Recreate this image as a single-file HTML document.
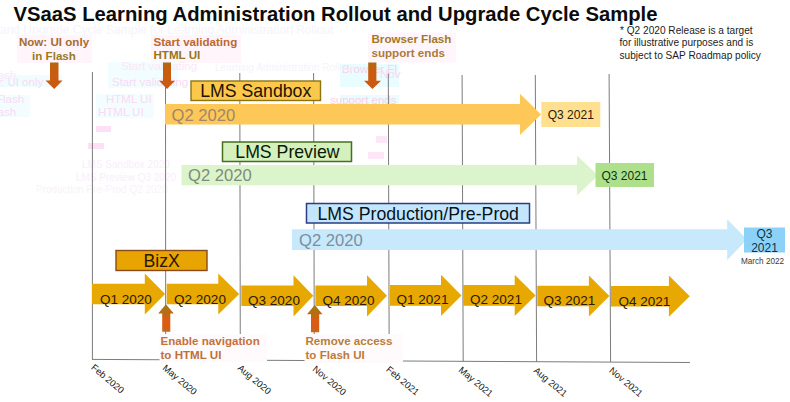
<!DOCTYPE html>
<html><head><meta charset="utf-8">
<style>
html,body{margin:0;padding:0;background:#fff;}
body{width:790px;height:402px;overflow:hidden;position:relative;font-family:"Liberation Sans",sans-serif;}
svg{position:absolute;left:0;top:0;}
svg text{font-family:"Liberation Sans",sans-serif;}
</style></head><body>
<svg width="790" height="402" viewBox="0 0 790 402">
<defs>
<linearGradient id="ga" x1="0" y1="0" x2="0" y2="1"><stop offset="0" stop-color="#b0680e"/><stop offset="0.25" stop-color="#c65e0e"/><stop offset="0.7" stop-color="#cc5a10"/><stop offset="1" stop-color="#c8581a"/></linearGradient>
<linearGradient id="gu" x1="0" y1="0" x2="0" y2="1"><stop offset="0" stop-color="#9c7a18"/><stop offset="0.3" stop-color="#b86c12"/><stop offset="0.55" stop-color="#dc5c12"/><stop offset="0.85" stop-color="#d85c14"/><stop offset="1" stop-color="#b87020"/></linearGradient>
<linearGradient id="gt" x1="0" y1="0" x2="0" y2="1"><stop offset="0" stop-color="#bd6a38"/><stop offset="1" stop-color="#9c8426"/></linearGradient>
</defs>
<rect width="790" height="402" fill="#fff"/>

<g fill="#fff5fb">
<rect x="17" y="35" width="75" height="28"/>
<rect x="151" y="35" width="90" height="28"/>
<rect x="368" y="32.5" width="88" height="30"/>
</g>
<!-- faint ghost artifacts -->
<g font-size="11.5" fill="#fbd9f4">
<rect x="0" y="75" width="62" height="12" fill="#effdff"/>
<rect x="0" y="95" width="30" height="22" fill="#f3fdff"/>
<rect x="108" y="62" width="70" height="26" fill="#f1fdff"/>
<rect x="96" y="94" width="58" height="24" fill="#f3fdff"/>
<rect x="340" y="64" width="59" height="23" fill="#e9fcff"/>
<rect x="340" y="95" width="59" height="10" fill="#e9fcff"/>
<text x="-22" y="85.5">Now: UI only</text>
<text x="-24" y="79" fill="#fde6f8">in Flash</text>
<text x="-4" y="103">Flash</text>
<text x="-24" y="116">in Flash</text>
<text x="112" y="85.5">Start validating</text>
<text x="121" y="70" fill="#fde6f8">Start validating</text>
<text x="106" y="103">HTML UI</text>
<text x="98" y="116">HTML UI</text>
<text x="342" y="72.5" fill="#fbcfe8">Browser Fl</text>
<text x="380" y="78" fill="#fcd6f0">Nov</text>
<text x="330" y="103.5" fill="#fbcfe8">support ends</text>
<rect x="96" y="126" width="15" height="6" fill="#fde0f6"/>
<rect x="88" y="143" width="16" height="6" fill="#fde0f6"/>
<rect x="376" y="136" width="11" height="7" fill="#fde6f8"/>
<rect x="368" y="152" width="16" height="7" fill="#fde6f8"/>
</g>
<g font-size="10" fill="#f6f3fd">
<text x="0" y="34" font-size="12">and Upgrade Cycle Sample for Learning Administration Rollout</text>
<text x="215" y="71">Learning Administration Rollout</text>
<text x="82" y="168" fill="#f9eefb">LMS Sandbox 2020</text>
<text x="76" y="181" fill="#f9eefb">LMS Preview Q3 2020</text>
<text x="36" y="193" fill="#faf1fc">Production Pre-Prod Q2 2020</text>
</g>
<!-- grid lines -->
<g stroke="#7c7c7c" stroke-width="1" fill="none">
<line x1="92.4" y1="72" x2="92.4" y2="359.5"/>
<line x1="165.5" y1="72" x2="165.7" y2="359.9"/>
<line x1="239.8" y1="73" x2="240.3" y2="360.2"/>
<line x1="313.6" y1="73" x2="314.3" y2="360.6"/>
<line x1="388.3" y1="73.5" x2="389.2" y2="361.0"/>
<line x1="462.1" y1="75" x2="463.2" y2="361.4"/>
<line x1="535.3" y1="75" x2="536.6" y2="361.7"/>
<line x1="609.1" y1="74" x2="610.6" y2="362.1"/>
<line x1="92" y1="359.4" x2="690" y2="362.5"/>
</g>
<rect x="159.5" y="334" width="107.5" height="28" fill="#fffafc"/>
<rect x="304.5" y="334" width="98.5" height="29" fill="#fffafc"/>

<!-- Sandbox row -->
<polygon points="165,104 520,104 520,93.7 541,114.4 520,135.1 520,124.6 165,124.6" fill="#fdc858"/>
<rect x="541.3" y="102" width="59" height="25" fill="#ffe090"/>
<rect x="191" y="81" width="129.5" height="19.5" fill="#fcc84c" stroke="#8a7610" stroke-width="1.4"/>

<!-- Preview row -->
<polygon points="181.5,165 577,165 577,155.4 598,175.4 577,195.5 577,185.2 181.5,185.2" fill="#dcf4cc"/>
<rect x="595.5" y="163" width="58.5" height="24" fill="#aee08c"/>
<rect x="222.5" y="142" width="129" height="19.5" fill="#d4f0bc" stroke="#456f1c" stroke-width="1.5"/>

<!-- Production row -->
<polygon points="292,229.2 727.2,229.2 727.2,219.2 747,239.6 727.2,260 727.2,250 292,250" fill="#c8e8fc"/>
<rect x="744" y="227.5" width="41" height="25" fill="#8cd2f8"/>
<rect x="306.5" y="203.5" width="223" height="19.5" fill="#c4e6fc" stroke="#2a3c84" stroke-width="1.5"/>

<!-- BizX -->
<rect x="116" y="250.5" width="91" height="20" fill="#e8a400" stroke="#8a4a18" stroke-width="1.4"/>

<!-- Quarter arrows -->
<g fill="#e8a802">
<polygon points="92,283.7 144.8,283.7 144.8,273.4 165.1,294.0 144.8,314.6 144.8,304.3 92,304.3"/>
<polygon points="166.7,283.7 218.3,283.7 218.3,273.4 239.2,294.0 218.3,314.6 218.3,304.3 166.7,304.3"/>
<polygon points="241.3,285.5 293.5,285.5 293.5,275.2 313.3,295.8 293.5,316.4 293.5,306.1 241.3,306.1"/>
<polygon points="315.4,285.5 367,285.5 367,275.2 387,295.8 367,316.4 367,306.1 315.4,306.1"/>
<polygon points="390,285.1 441,285.1 441,274.8 461.5,295.4 441,316.0 441,305.7 390,305.7"/>
<polygon points="463.1,285.1 514.7,285.1 514.7,274.8 535.6,295.4 514.7,316.0 514.7,305.7 463.1,305.7"/>
<polygon points="537.3,285.7 588.9,285.7 588.9,275.4 609.4,296.0 588.9,316.6 588.9,306.3 537.3,306.3"/>
<polygon points="611,285.9 668.9,285.9 668.9,275.6 689.8,296.2 668.9,316.8 668.9,306.5 611,306.5"/>
</g>

<!-- down arrows -->
<g fill="url(#ga)">
<polygon points="50,62.5 58.5,62.5 58.5,80.5 62.5,80.5 54.2,89 45.5,80.5 50,80.5"/>
<polygon points="163,62.5 171,62.5 171,80.8 175,80.8 167,89 159,80.8 163,80.8"/>
<polygon points="368.2,62.5 376.4,62.5 376.4,80.8 381,80.8 372.4,89 364,80.8 368.2,80.8"/>
</g>
<!-- up arrows -->
<g fill="url(#gu)">
<polygon points="165.9,304.3 173.8,313.6 170.3,313.6 170.3,331.8 162.2,331.8 162.2,313.6 158.2,313.6"/>
<polygon points="314.8,305 322.5,314.2 319.2,314.2 319.2,332.3 311,332.3 311,314.2 307,314.2"/>
</g>

<!-- text -->
<text x="13.5" y="20.5" font-size="20.25" font-weight="bold" fill="#0c0c0c">VSaaS Learning Administration Rollout and Upgrade Cycle Sample</text>
<g font-size="10.12" fill="#1c1c1c">
<text x="620" y="33.5">* Q2 2020 Release is a target</text>
<text x="619.5" y="46.3">for illustrative purposes and is</text>
<text x="619.5" y="58.5">subject to SAP Roadmap policy</text>
</g>

<g font-size="11.6" font-weight="bold" fill="#b47332" stroke-width="0.25" paint-order="stroke">
<text x="54" y="46.3" text-anchor="middle" fill="#a86c2c">Now: UI only</text>
<text x="54" y="59.6" text-anchor="middle" fill="#9a7a24">in Flash</text>
<text x="153.5" y="46" fill="#be682e">Start validating</text>
<text x="153.5" y="59.2" fill="#93761a">HTML UI</text>
<text x="371.5" y="43.3" fill="#a07a28">Browser Flash</text>
<text x="371.5" y="57" fill="#ac7a3a">support ends</text>
<text x="160.5" y="345" fill="#c8703a">Enable navigation</text>
<text x="160.5" y="358.5" fill="#c07038">to HTML UI</text>
<text x="305.5" y="345" fill="#b87e38">Remove access</text>
<text x="305.5" y="359.3" fill="#c07a38">to Flash UI</text>
</g>

<g font-size="17.7" text-anchor="middle">
<text x="255.7" y="97" fill="#241200">LMS Sandbox</text>
<text x="287.4" y="158" fill="#0c1806">LMS Preview</text>
<text x="418.2" y="219.6" fill="#06121c">LMS Production/Pre-Prod</text>
<text x="161.7" y="266.8" fill="#2a1600">BizX</text>
</g>
<g font-size="16.6">
<text x="171.5" y="120.5" fill="#a0866a">Q2 2020</text>
<text x="188" y="181.3" fill="#7f8c78">Q2 2020</text>
<text x="299" y="245.8" fill="#78909c">Q2 2020</text>
</g>

<g font-size="12" fill="#1a1a10" text-anchor="middle">
<text x="570.8" y="118.8" fill="#2a1a08">Q3 2021</text>
<text x="624.5" y="179.5" fill="#0e300c">Q3 2021</text>
<text x="764.5" y="237.6" fill="#0c3448">Q3</text>
<text x="764.5" y="251.5" fill="#0c3448">2021</text>
</g>
<text x="762.5" y="264" font-size="8.2" fill="#3a3a3a" text-anchor="middle">March 2022</text>

<g font-size="13.5" fill="#2a1a00" text-anchor="middle">
<text x="125.8" y="304.1">Q1 2020</text>
<text x="200" y="304">Q2 2020</text>
<text x="274" y="304.5">Q3 2020</text>
<text x="348.5" y="304.5">Q4 2020</text>
<text x="422.5" y="304.2">Q1 2021</text>
<text x="496" y="304">Q2 2021</text>
<text x="569.3" y="304.6">Q3 2021</text>
<text x="644.3" y="305.6">Q4 2021</text>
</g>

<g font-size="9.4" fill="#222">
<text transform="translate(90.5,368.5) rotate(40)">Feb 2020</text>
<text transform="translate(162,369) rotate(40)">May 2020</text>
<text transform="translate(237,369) rotate(40)">Aug 2020</text>
<text transform="translate(312,370) rotate(40)">Nov 2020</text>
<text transform="translate(385.5,370.5) rotate(40)">Feb 2021</text>
<text transform="translate(458,371) rotate(40)">May 2021</text>
<text transform="translate(533,371.5) rotate(40)">Aug 2021</text>
<text transform="translate(608.5,371.5) rotate(40)">Nov 2021</text>
</g>
</svg>
</body></html>
